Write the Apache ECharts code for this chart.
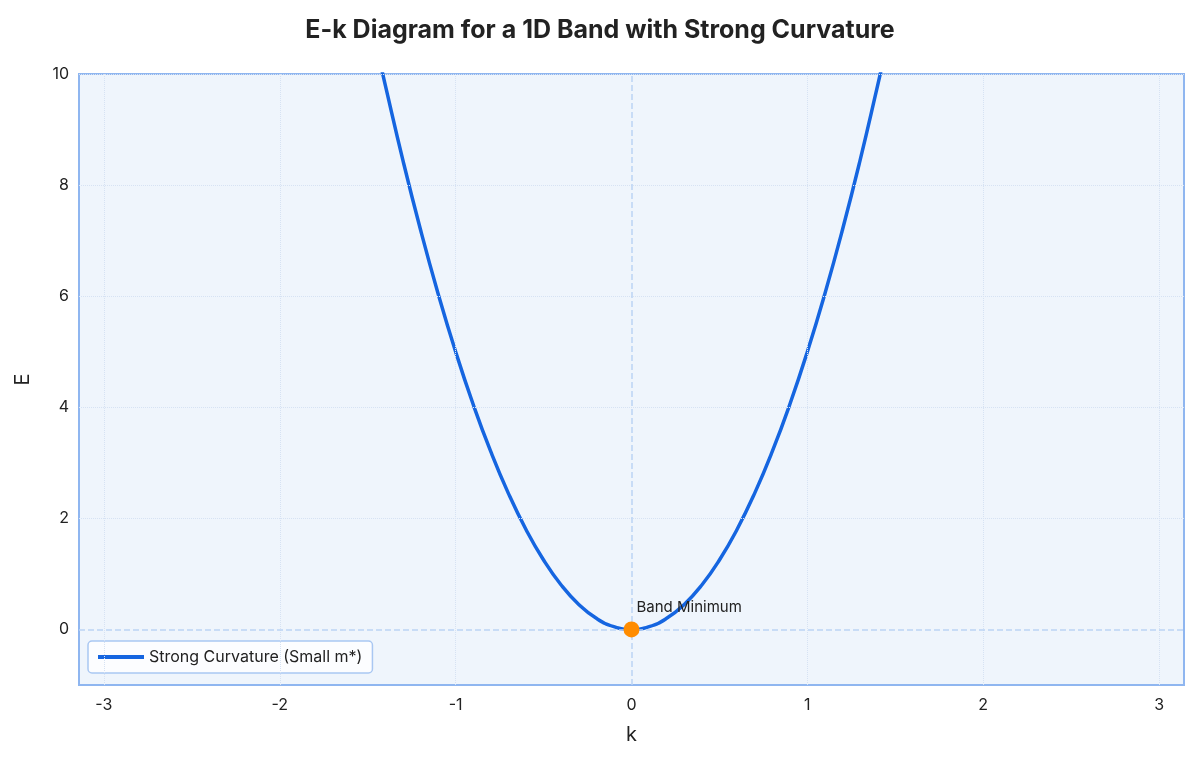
<!DOCTYPE html>
<html><head><meta charset="utf-8">
<script src="https://cdn.jsdelivr.net/npm/echarts@6/dist/echarts.min.js"></script>
<style>html,body{margin:0;padding:0;background:#fff}#c{width:1200px;height:761px}</style>
</head><body><div id="c"></div>
<script>
const kValues = [-1.42,-1.4,-1.3,-1.2,-1.1,-1.0,-0.9,-0.8,-0.7,-0.6,-0.5,-0.4,-0.3,-0.2,-0.1,0,0.1,0.2,0.3,0.4,0.5,0.6,0.7,0.8,0.9,1.0,1.1,1.2,1.3,1.4,1.42];
const eValues = [10.08,9.8,8.45,7.2,6.05,5.0,4.05,3.2,2.45,1.8,1.25,0.8,0.45,0.2,0.05,0,0.05,0.2,0.45,0.8,1.25,1.8,2.45,3.2,4.05,5.0,6.05,7.2,8.45,9.8,10.08];
const xTicks = [-3,-2,-1,0,1,2,3];
const yTicks = [0,2,4,6,8,10];
const minimumPoint = [0,0];
const seriesName = 'Strong Curvature (Small m*)';
const font = 'Inter, "Noto Sans", sans-serif';
const chart = echarts.init(document.getElementById('c'));
const gridMarks = xTicks.filter(v=>v!==0).map(v=>({xAxis:v}))
  .concat(yTicks.filter(v=>v!==0).map(v=>({yAxis:v})));
chart.setOption({
  backgroundColor:'#ffffff',
  textStyle:{fontFamily:font},
  title:{text:'E-k Diagram for a 1D Band with Strong Curvature',left:'center',top:13,
    textStyle:{fontSize:25,fontWeight:'bold',color:'#222',fontFamily:font}},
  grid:{left:79,right:16,top:74,bottom:76,show:true,backgroundColor:'#eff5fc',borderColor:'#8fb6f0',borderWidth:2},
  legend:{left:88,top:641,orient:'vertical',backgroundColor:'rgba(255,255,255,0.8)',borderColor:'#a9c7f2',borderWidth:1.5,borderRadius:4,
    padding:[8,10],itemWidth:46,itemHeight:4,itemGap:10,textStyle:{fontSize:16,color:'#222',fontFamily:font},
    data:[{name:seriesName,icon:'rect'}]},
  xAxis:{type:'value',min:-Math.PI,max:Math.PI,name:'k',nameLocation:'middle',nameGap:40,
    nameTextStyle:{fontSize:20,color:'#222'},
    axisLine:{show:false},axisTick:{show:false},splitLine:{show:false},
    axisLabel:{customValues:xTicks,fontSize:16,color:'#222',margin:12}},
  yAxis:{type:'value',min:-1,max:10,name:'E',nameLocation:'middle',nameGap:46,
    nameTextStyle:{fontSize:20,color:'#222'},
    axisLine:{show:false},axisTick:{show:false},splitLine:{show:false},
    axisLabel:{customValues:yTicks,fontSize:16,color:'#222',margin:10}},
  series:[
    {name:'gridlines',type:'line',data:[],z:1,markLine:{silent:true,symbol:'none',label:{show:false},
       lineStyle:{color:'#d6e2f3',type:'dotted',width:1},data:gridMarks}},
    {name:'axes0',type:'line',data:[],z:1,markLine:{silent:true,symbol:'none',label:{show:false},
       lineStyle:{color:'#bcd3f3',type:'dashed',width:1.5},data:[{xAxis:0},{yAxis:0}]}},
    {name:seriesName,type:'line',data:kValues.map((k,i)=>[k,eValues[i]]),smooth:true,showSymbol:false,
     lineStyle:{color:'#1565e0',width:3.5},itemStyle:{color:'#1565e0'},clip:true,z:3},
    {name:'min',type:'scatter',data:[minimumPoint],symbolSize:16,itemStyle:{color:'#ff8c00',opacity:1},z:5,
     label:{show:true,formatter:'Band Minimum',position:[13,-21],fontSize:15,color:'#222',fontFamily:font}}
  ]
});
</script></body></html>
